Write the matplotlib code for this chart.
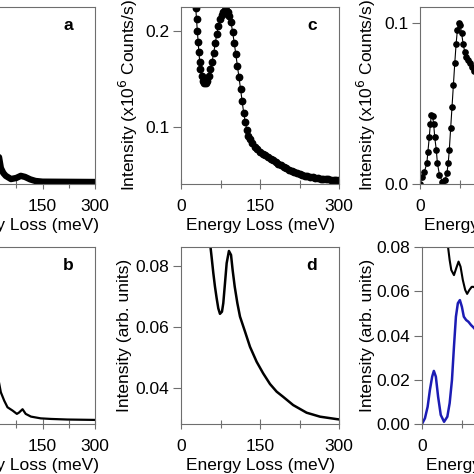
import matplotlib
matplotlib.use('Agg')
import matplotlib.pyplot as plt
from matplotlib.ticker import MultipleLocator, FormatStrFormatter

plt.rcParams['font.family'] = ['Liberation Sans', 'DejaVu Sans']

# panel a: full loss spectrum (thick trace)
a_energy = [-100, -30, -15, 0, 15, 25, 31, 38, 45, 60, 75, 88, 100, 115, 130, 150, 200, 300]
a_counts = [0.10, 0.60, 3.0, 8.0, 3.0, 0.80, 0.45, 0.31, 0.23, 0.14, 0.17, 0.23, 0.20, 0.13, 0.085, 0.065, 0.062, 0.056]

# panel b: calculated spectrum, full range
b_energy = [0, 15, 25, 31, 40.6, 50, 64.5, 76.8, 83, 93, 102, 117, 145, 174, 221, 300]
b_int = [1.2, 0.45, 0.23, 0.173, 0.130, 0.096, 0.079, 0.062, 0.069, 0.086, 0.062, 0.048, 0.039, 0.036, 0.033, 0.031]

# panel c: measured spectrum, zoomed
c_energy = [28, 29.5, 31, 32.5, 34, 35.5, 37, 39, 41.5, 44, 47, 50, 53, 56, 59, 62, 65, 68, 71, 74,
            77, 80, 83, 86, 89, 92, 95, 98, 101, 104, 107, 110, 113, 116, 119, 122, 125, 128, 131, 135,
            140, 145, 150, 155, 160, 165, 170, 175, 180, 185, 190, 195, 200, 205, 210, 215, 220, 225,
            230, 235, 240, 245, 250, 255, 260, 265, 270, 275, 280, 285, 290, 295, 300]
c_counts = [0.224, 0.212, 0.200, 0.189, 0.178, 0.168, 0.160, 0.153, 0.148, 0.146, 0.146, 0.148, 0.153,
            0.160, 0.168, 0.177, 0.187, 0.197, 0.205, 0.212, 0.217, 0.220, 0.222, 0.222, 0.220, 0.216,
            0.209, 0.199, 0.188, 0.176, 0.164, 0.152, 0.140, 0.127, 0.115, 0.105, 0.097, 0.091, 0.087,
            0.083, 0.0795, 0.0768, 0.0743, 0.0722, 0.0703, 0.0685, 0.0668, 0.0651, 0.0634, 0.0617,
            0.0600, 0.0585, 0.0570, 0.0557, 0.0544, 0.0532, 0.0521, 0.0511, 0.0502, 0.0494, 0.0487,
            0.0480, 0.0474, 0.0469, 0.0465, 0.0461, 0.0458, 0.0455, 0.0453, 0.0451, 0.0449, 0.0448, 0.0447]

# panel d: calculated spectrum, zoomed
d_energy = [52, 56, 58, 61.4, 64.5, 67.7, 70.8, 74, 77.8, 80.3, 83.5, 86.7, 91, 95, 98, 102, 107, 112,
            121.5, 131, 143.6, 156, 169, 181.6, 194, 213, 238.5, 264, 295.5, 300]
d_int = [0.095, 0.0862, 0.0831, 0.0776, 0.0732, 0.0694, 0.0661, 0.0643, 0.0650, 0.0678, 0.0743, 0.0809,
         0.0849, 0.0836, 0.0787, 0.0732, 0.0678, 0.0634, 0.0585, 0.0535, 0.0486, 0.0448, 0.0413, 0.0388,
         0.0371, 0.0344, 0.0319, 0.0306, 0.0298, 0.0297]

# panel e: background-subtracted measured spectrum
e_energy = [0, 3.3, 8.5, 13, 15, 17.6, 19.6, 21.6, 24, 26, 28, 31, 33, 37, 42.5, 47.7, 51, 53.6, 55.6,
            58.2, 60.8, 63.4, 66, 68.6, 71, 74, 76.5, 79, 81.8, 85, 88, 91.5, 94.7, 98, 102.6, 108]
e_counts = [0.0, 0.0045, 0.0077, 0.013, 0.020, 0.029, 0.037, 0.043, 0.042, 0.037, 0.029, 0.021, 0.013,
            0.0056, 0.0015, 0.0025, 0.0066, 0.013, 0.021, 0.0346, 0.048, 0.0615, 0.075, 0.0873, 0.0957,
            0.0998, 0.0988, 0.0937, 0.0873, 0.082, 0.079, 0.077, 0.075, 0.073, 0.070, 0.067]

# panel f: calculated spectra (black: total, blue: phonon part)
f_tot_energy = [47, 49.4, 52.5, 55.6, 60.7, 65, 69.4, 73.2, 77.5, 82, 85.7, 90, 94.4, 97.5, 102]
f_tot = [0.088, 0.0801, 0.0741, 0.0696, 0.0673, 0.0704, 0.0734, 0.0711, 0.0651, 0.0606, 0.0588,
         0.0606, 0.0620, 0.0620, 0.0615]
f_ph_energy = [0, 0.6, 5.6, 10.7, 15, 19.3, 22.5, 26.3, 30.6, 35.6, 41.9, 48.1, 52.5, 56.9, 60.7, 64.4,
               68.1, 71.9, 75.7, 79.4, 83.8, 88.2, 93.2, 97.5, 102]
f_ph = [0.0, 0.0003, 0.0026, 0.0078, 0.0154, 0.0214, 0.0240, 0.0214, 0.0123, 0.0041, 0.0010, 0.0033,
        0.0094, 0.0199, 0.0350, 0.0485, 0.0546, 0.0560, 0.0530, 0.0485, 0.0470, 0.0462, 0.0447, 0.0437,
        0.0425]

W = H = 474.0
spine_col = '#6e6e6e'


def box(left, top, w, h):
    return [left / W, 1 - (top + h) / H, w / W, h / H]


def style(ax, xlim, ylim, yticks, yfmt, letter=None, ylabel=None, ylab_x=-0.28):
    ax.set_xlim(*xlim)
    ax.set_ylim(*ylim)
    ax.xaxis.set_major_locator(MultipleLocator(150))
    ax.xaxis.set_minor_locator(MultipleLocator(75))
    if yticks is not None:
        ax.set_yticks(yticks)
        ax.yaxis.set_major_formatter(FormatStrFormatter(yfmt))
    for s in ax.spines.values():
        s.set_color(spine_col)
        s.set_linewidth(0.8)
    ax.tick_params(axis='x', which='major', direction='inout', length=7, width=0.8, color=spine_col,
                   labelsize=12.5, pad=7)
    ax.tick_params(axis='x', which='minor', direction='inout', length=5.5, width=0.8, color=spine_col)
    ax.tick_params(axis='y', which='major', direction='out', length=5.5, width=0.8, color=spine_col,
                   labelsize=12.5, pad=3)
    ax.set_xlabel('Energy Loss (meV)', fontsize=12.5)
    ax.xaxis.set_label_coords(0.5, -0.19)
    if ylabel:
        ax.set_ylabel(ylabel, fontsize=12.5)
        ax.yaxis.set_label_coords(ylab_x, 0.5)
    if letter:
        ax.text(1 - 27.0 / (ax.get_position().width * W), 1 - 19.0 / 177, letter, transform=ax.transAxes,
                ha='center', va='center', fontsize=12.5, fontweight='bold')


fig = plt.figure(figsize=(4.74, 4.74), dpi=100)

ax_a = fig.add_axes(box(-45, 7, 140, 177))
ax_a.plot(a_energy, a_counts, '-', color='black', lw=4.6, solid_capstyle='round')
style(ax_a, (-100, 300), (0, 5), None, None, letter='a')

ax_b = fig.add_axes(box(-45, 247, 140, 177))
ax_b.plot(b_energy, b_int, '-', color='black', lw=1.6)
style(ax_b, (-100, 300), (0.01, 0.92), None, None, letter='b')

ax_c = fig.add_axes(box(181, 7, 158, 177))
ax_c.plot(c_energy, c_counts, 'o-', color='black', lw=0.8, ms=4.6)
style(ax_c, (0, 300), (0.0406, 0.225), [0.1, 0.2], '%.1f', letter='c',
      ylabel='Intensity (x10$^6$ Counts/s)', ylab_x=-0.26)

ax_d = fig.add_axes(box(181, 247, 158, 177))
ax_d.plot(d_energy, d_int, '-', color='black', lw=1.8)
style(ax_d, (0, 300), (0.0282, 0.0862), [0.04, 0.06, 0.08], '%.2f', letter='d',
      ylabel='Intensity (arb. units)', ylab_x=-0.31)

ax_e = fig.add_axes(box(420, 7, 158, 177))
ax_e.plot(e_energy, e_counts, 'o-', color='black', lw=0.8, ms=3.8)
style(ax_e, (0, 300), (0, 0.110), [0.0, 0.1], '%.1f',
      ylabel='Intensity (x10$^6$ Counts/s)', ylab_x=-0.266)

ax_f = fig.add_axes(box(422, 247, 158, 177))
ax_f.plot(f_tot_energy, f_tot, '-', color='black', lw=1.5)
ax_f.plot(f_ph_energy, f_ph, '-', color='#1c1cb4', lw=1.8)
style(ax_f, (0, 300), (0, 0.08), [0.0, 0.02, 0.04, 0.06, 0.08], '%.2f',
      ylabel='Intensity (arb. units)', ylab_x=-0.297)

fig.savefig('out.png', dpi=100)
